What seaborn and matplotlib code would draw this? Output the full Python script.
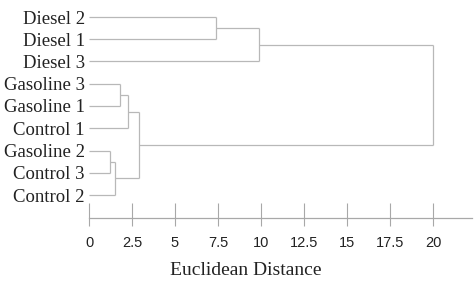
import matplotlib
matplotlib.use("Agg")
import matplotlib.pyplot as plt
import seaborn as sns

# leaves listed top to bottom
leaves = ["Diesel 2", "Diesel 1", "Diesel 3", "Gasoline 3", "Gasoline 1",
          "Control 1", "Gasoline 2", "Control 3", "Control 2"]

# merges: (left child, right child, height); "c#" = cluster from merge #
merge_left = ["Diesel 2", "c1", "Gasoline 3", "c3", "Gasoline 2", "c5", "c4", "c2"]
merge_right = ["Diesel 1", "Diesel 3", "Gasoline 1", "Control 1", "Control 3", "Control 2", "c6", "c7"]
merge_height = [7.4, 9.9, 1.8, 2.25, 1.2, 1.5, 2.9, 20.0]

tick_vals = [0, 2.5, 5, 7.5, 10, 12.5, 15, 17.5, 20]
tick_labels = ["0", "2.5", "5", "7.5", "10", "12.5", "15", "17.5", "20"]

sns.set_style("white")

fig = plt.figure(figsize=(4.74, 2.87), dpi=100)
ax = fig.add_axes([89 / 474, 1 - 218 / 287, (472 - 89) / 474, 218 / 287])

n = len(leaves)
pos = {name: n - 1 - i for i, name in enumerate(leaves)}
hgt = {name: 0.0 for name in leaves}
col = "#b8b8b8"
lw = 0.9

for k, (a, b, h) in enumerate(zip(merge_left, merge_right, merge_height), start=1):
    ya, yb = pos[a], pos[b]
    ax.plot([hgt[a], h], [ya, ya], color=col, lw=lw, solid_capstyle="butt")
    ax.plot([hgt[b], h], [yb, yb], color=col, lw=lw, solid_capstyle="butt")
    ax.plot([h, h], [ya, yb], color=col, lw=lw, solid_capstyle="butt")
    name = f"c{k}"
    pos[name] = (ya + yb) / 2
    hgt[name] = h

ax.set_xlim(0, (472 - 89) / 17.2)
ax.set_ylim(n - 1 - (218 - 17) / 22.25, n - 1 + 17 / 22.25)

for s in ["top", "right", "left"]:
    ax.spines[s].set_visible(False)
ax.spines["bottom"].set_color("#a8a8a8")
ax.spines["bottom"].set_linewidth(0.9)

ax.set_yticks([pos[l] for l in leaves])
ax.set_yticklabels(leaves, family="Liberation Serif", fontsize=13.5, color="#222222")
ax.tick_params(axis="y", length=0, pad=3)

ax.set_xticks(tick_vals)
ax.set_xticklabels(tick_labels, family="Liberation Sans", fontsize=10.5, color="#222222")
ax.set_xticks(tick_vals, minor=True)
ax.xaxis.remove_overlapping_locs = False
ax.tick_params(axis="x", which="major", direction="in", length=11, width=0.8,
               color="#a8a8a8", pad=13, bottom=True)
ax.tick_params(axis="x", which="minor", direction="out", length=6, width=0.8,
               color="#a8a8a8", bottom=True)

ax.set_xlabel("Euclidean Distance", family="Liberation Serif", fontsize=14,
              color="#222222")
ax.xaxis.set_label_coords((246 - 89) / 383, -44 / 218)

fig.savefig("out.png", dpi=100)
